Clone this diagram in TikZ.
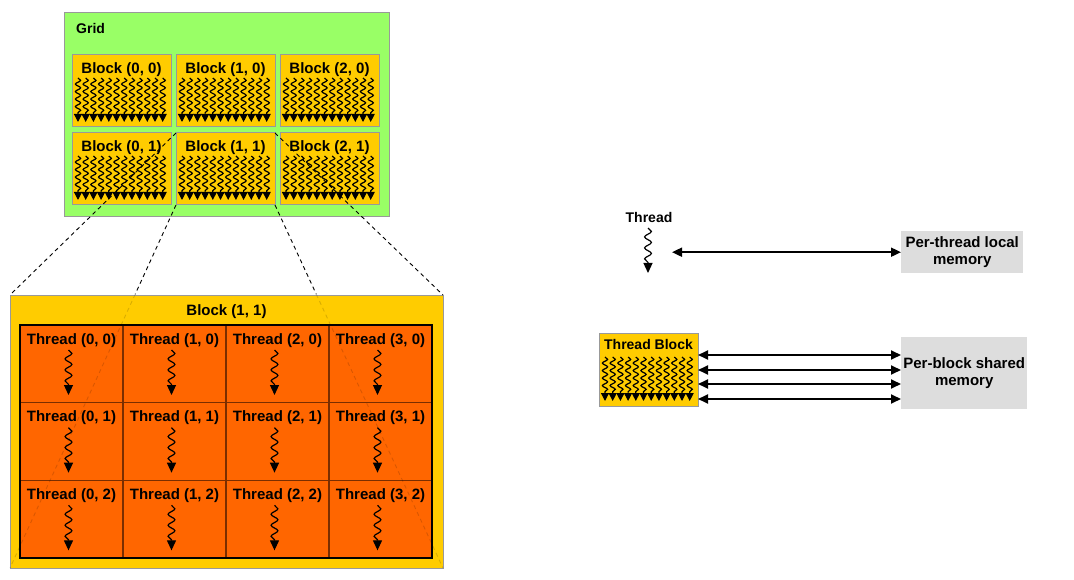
\documentclass[tikz,border=0pt]{standalone}
\usepackage{fontspec}
\setmainfont{Liberation Sans}
\usetikzlibrary{positioning, arrows.meta, decorations.pathmorphing, calc}

\definecolor{gridgreen}{HTML}{99FF66}
\definecolor{blockyellow}{HTML}{FFCC00}
\definecolor{threadorange}{HTML}{FF6600}
\definecolor{memgray}{HTML}{DDDDDD}
\definecolor{edgegray}{HTML}{999999}
\definecolor{cellline}{HTML}{7A2E00}

\tikzset{
  txt/.style={font=\bfseries\fontsize{15}{17}\selectfont, inner sep=0pt},
  smalltxt/.style={font=\bfseries\fontsize{14}{16}\selectfont, inner sep=0pt},
  blockbox/.style={draw=edgegray, fill=blockyellow, line width=1pt, minimum width=99pt, minimum height=72pt, inner sep=0pt, outer sep=0pt, anchor=north west},
  cellbox/.style={draw=cellline, fill=threadorange, line width=1.2pt, minimum width=103pt, minimum height=77.67pt, inner sep=0pt, outer sep=0pt, anchor=north west},
  membox/.style={fill=memgray, txt, align=center, anchor=north west},
  squig/.style={line width=1.2pt, decorate, decoration={snake, amplitude=2.6pt, segment length=7.5pt, post length=7pt}, -{Triangle[width=8pt,length=8pt]}},
  bigsquig/.style={squig, decoration={snake, amplitude=3.4pt, segment length=11pt, post length=9pt}, -{Triangle[width=9pt,length=10pt]}},
  zoomline/.style={dash pattern=on 4pt off 3.5pt, line width=0.9pt},
  memarrow/.style={line width=1.8pt, {Triangle[width=9pt,length=10pt]}-{Triangle[width=9pt,length=10pt]}},
  squiggles/.pic={
    \foreach \k in {0,...,11}
      \draw[squig] (\k*7.7,0) -- (\k*7.7,44);
  }
}

\begin{document}
\begin{tikzpicture}[x=1pt, y=-1pt]
  \useasboundingbox[fill=white] (0,0) rectangle (1074,580);

  % grid of blocks
  \node[draw=edgegray, fill=gridgreen, line width=1pt, minimum width=325pt, minimum height=204pt, inner sep=0pt, anchor=north west] (grid) at (64,12) {};
  \node[smalltxt, anchor=west] (grid label) at (76,28) {Grid};
  \foreach \i in {0,1,2}
    \foreach \j in {0,1}
    {
      \node[blockbox] (block \i\j) at ({72+\i*104},{55+\j*78}) {};
      \node[txt, below=7pt of block \i\j.north] (block label \i\j) {Block (\i, \j)};
      \pic at ([shift={(6,23)}]block \i\j.north west) {squiggles};
    }

  % block (1, 1) blown up
  \node[blockbox, minimum width=433pt, minimum height=273pt] (big block) at (10,295) {};
  \node[txt, below=9pt of big block.north] (big label) {Block (1, 1)};
  \foreach \i in {0,...,3}
    \foreach \j in {0,1,2}
    {
      \node[cellbox] (thread \i\j) at ({20+\i*103},{325+\j*77.67}) {};
      \node[txt, below=8pt of thread \i\j.north] (thread label \i\j) {Thread (\i, \j)};
      \draw[bigsquig] ([shift={(-3,25)}]thread \i\j.north) -- ([shift={(-3,70)}]thread \i\j.north);
    }
  \draw[line width=2.2pt] (thread 00.north west) rectangle (thread 32.south east);

  % zoom lines
  \draw[zoomline] (block 11.north west) -- (big block.north west);
  \draw[zoomline] (block 11.north east) -- (big block.north east);
  \draw[zoomline] (block 11.south west) -- ($(block 11.south west)!0.246!(big block.south west)$) coordinate (enter left);
  \draw[zoomline] (block 11.south east) -- ($(block 11.south east)!0.246!(big block.south east)$) coordinate (enter right);
  \draw[zoomline, draw opacity=0.15] (enter left) -- (big block.south west);
  \draw[zoomline, draw opacity=0.15] (enter right) -- (big block.south east);

  % one thread and its local memory
  \node[smalltxt] (lone label) at (649,217) {Thread};
  \coordinate (lone top) at (648,228);
  \coordinate (lone tip) at (648,273);
  \draw[bigsquig] (lone top) -- (lone tip);
  \node[membox, minimum width=122pt, minimum height=42pt] (local mem) at (901,231) {Per-thread local\\memory};
  \coordinate[left=229pt of local mem.west] (lone side);
  \draw[memarrow] (lone side) -- (local mem.west);

  % thread block and its shared memory
  \node[blockbox, minimum height=73pt] (tblock) at (599,333) {};
  \node[smalltxt, below=6pt of tblock.north] (tblock label) {Thread Block};
  \pic at ([shift={(6,24)}]tblock.north west) {squiggles};
  \node[membox, minimum width=126pt, minimum height=72pt] (shared mem) at (901,337) {Per-block shared\\memory};
  \foreach \y in {355,370,384,399}
    \draw[memarrow] (tblock.east |- 0,\y) -- (shared mem.west |- 0,\y);
\end{tikzpicture}
\end{document}
